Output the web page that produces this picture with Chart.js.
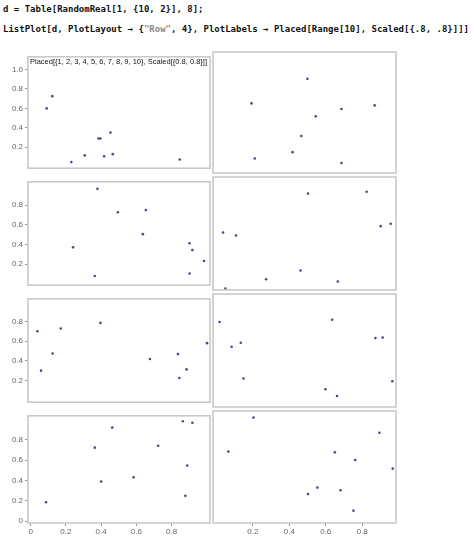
<!DOCTYPE html>
<html>
<head>
<meta charset="utf-8">
<script src="https://cdn.jsdelivr.net/npm/chart.js@4.4.0/dist/chart.umd.min.js"></script>
<style>
  body { margin: 0; background: #fff; width: 474px; height: 539px; position: relative; overflow: hidden; }
  .code { position: absolute; left: 3px; font: bold 9px "DejaVu Sans Mono", monospace; line-height: 12px; color: #111; white-space: pre; }
  .code .str { color: #8a8a8a; }
  canvas { position: absolute; }
</style>
</head>
<body>
<div class="code" style="top:3px">d = Table[RandomReal[1, {10, 2}], 8];</div>
<div class="code" style="top:23px">ListPlot[d, PlotLayout → {<span class="str">"Row"</span>, 4}, PlotLabels → Placed[Range[10], Scaled[{.8, .8}]]]</div>
<script>
// values, one pair of arrays per panel (row by row, left then right)
const p1x = [0.091, 0.123, 0.231, 0.307, 0.385, 0.396, 0.417, 0.453, 0.466, 0.846];
const p1y = [0.600, 0.726, 0.046, 0.115, 0.290, 0.290, 0.106, 0.350, 0.128, 0.072];
const p2x = [0.499, 0.193, 0.686, 0.868, 0.545, 0.466, 0.418, 0.211, 0.686];
const p2y = [0.877, 0.644, 0.591, 0.625, 0.521, 0.335, 0.181, 0.121, 0.077];
const p3x = [0.379, 0.495, 0.654, 0.637, 0.241, 0.364, 0.902, 0.918, 0.984, 0.902];
const p3y = [0.966, 0.728, 0.750, 0.506, 0.372, 0.081, 0.413, 0.344, 0.234, 0.106];
const p4x = [0.503, 0.824, 0.037, 0.108, 0.901, 0.956, 0.050, 0.273, 0.462, 0.666];
const p4y = [0.884, 0.900, 0.522, 0.494, 0.581, 0.603, 0.000, 0.088, 0.169, 0.066];
const p5x = [0.038, 0.059, 0.125, 0.171, 0.396, 0.677, 0.836, 0.885, 0.844, 1.001];
const p5y = [0.703, 0.300, 0.475, 0.731, 0.788, 0.419, 0.469, 0.313, 0.225, 0.581];
const p6x = [0.018, 0.084, 0.134, 0.149, 0.635, 0.598, 0.662, 0.872, 0.912, 0.965];
const p6y = [0.772, 0.541, 0.578, 0.244, 0.794, 0.144, 0.081, 0.622, 0.628, 0.219];
const p7x = [0.087, 0.364, 0.400, 0.463, 0.584, 0.724, 0.864, 0.918, 0.889, 0.878];
const p7y = [0.185, 0.722, 0.389, 0.919, 0.430, 0.740, 0.982, 0.966, 0.546, 0.248];
const p8x = [0.204, 0.066, 0.650, 0.761, 0.894, 0.967, 0.554, 0.503, 0.681, 0.752];
const p8y = [0.973, 0.653, 0.646, 0.574, 0.831, 0.493, 0.314, 0.254, 0.289, 0.097];

const panelsX = [p1x, p2x, p3x, p4x, p5x, p6x, p7x, p8x];
const panelsY = [p1y, p2y, p3y, p4y, p5y, p6y, p7y, p8y];

// tick labels
const yTicksRow1 = [0.2, 0.4, 0.6, 0.8, 1.0];
const yTicksMid = [0.2, 0.4, 0.6, 0.8];
const yTicksLast = [0, 0.2, 0.4, 0.6, 0.8];
const xTicksLeft = [0, 0.2, 0.4, 0.6, 0.8];
const xTicksRight = [0.2, 0.4, 0.6, 0.8];

// axis ranges
const xRangeLeft = [-0.015, 1.018];
const xRangeRight = [-0.018, 0.985];
const yRanges = [[-0.017, 1.132], [-0.0125, 1.0375], [-0.022, 1.034], [-0.019, 1.035]];

const plotLabel = 'Placed[{1, 2, 3, 4, 5, 6, 7, 8, 9, 10}, Scaled[{0.8, 0.8}]]';

// frame positions in the page
const cols = [{ l: 28, r: 210 }, { l: 213, r: 396 }];
const rows = [{ t: 52, b: 173 }, { t: 177, b: 290 }, { t: 294, b: 407 }, { t: 411, b: 523 }];

const tickFont = { family: '"Liberation Sans", Arial, sans-serif', size: 8 };
const tickColor = '#666';

const framePlugin = {
  id: 'frame',
  afterDraw(chart) {
    const a = chart.chartArea;
    const ctx = chart.ctx;
    ctx.save();
    ctx.strokeStyle = '#c9c9c9';
    ctx.lineWidth = 1.6;
    ctx.strokeRect(a.left, a.top, a.right - a.left, a.bottom - a.top);
    if (chart.options.plugins.frame && chart.options.plugins.frame.label) {
      ctx.fillStyle = '#111';
      ctx.font = '8px "Liberation Sans", Arial, sans-serif';
      ctx.textBaseline = 'middle';
      ctx.fillText(chart.options.plugins.frame.label, a.left + 2, a.top + 5, a.right - a.left - 5);
    }
    ctx.restore();
  }
};

function fmt(v) {
  return v === 0 ? '0' : v.toFixed(1);
}

function makePanel(i) {
  const ci = i % 2;
  const ri = Math.floor(i / 2);
  const c = cols[ci];
  const r = rows[ri];
  const pad = 2;
  const showY = ci === 0;
  const showX = ri === 3;
  const leftExtra = showY ? 28 : pad;
  const bottomExtra = showX ? 18 : pad;
  const w = leftExtra + (c.r - c.l) + pad;
  const h = pad + (r.b - r.t) + bottomExtra;

  const canvas = document.createElement('canvas');
  canvas.width = w;
  canvas.height = h;
  canvas.style.left = (c.l - leftExtra) + 'px';
  canvas.style.top = (r.t - pad) + 'px';
  canvas.style.width = w + 'px';
  canvas.style.height = h + 'px';
  document.body.appendChild(canvas);

  const xs = panelsX[i];
  const ys = panelsY[i];
  const yTicks = ri === 0 ? yTicksRow1 : (ri === 3 ? yTicksLast : yTicksMid);
  const xTicks = ci === 0 ? xTicksLeft : xTicksRight;
  const xRange = ci === 0 ? xRangeLeft : xRangeRight;

  new Chart(canvas.getContext('2d'), {
    type: 'scatter',
    data: {
      datasets: [{
        data: xs.map((x, k) => ({ x: x, y: ys[k] })),
        backgroundColor: '#454d80',
        borderWidth: 0,
        pointRadius: 1.3,
        clip: false
      }]
    },
    options: {
      responsive: false,
      animation: false,
      devicePixelRatio: 1,
      layout: {
        autoPadding: false,
        padding: { left: showY ? 0 : pad, right: pad, top: pad, bottom: showX ? 0 : pad }
      },
      plugins: {
        legend: { display: false },
        tooltip: { enabled: false },
        frame: { label: i === 0 ? plotLabel : null }
      },
      scales: {
        x: {
          type: 'linear',
          display: showX,
          min: xRange[0],
          max: xRange[1],
          afterBuildTicks: s => { s.ticks = xTicks.map(v => ({ value: v })); },
          afterFit: s => { s.height = showX ? 18 : 0; },
          border: { display: false },
          grid: { drawOnChartArea: false, drawTicks: true, tickLength: 3, color: '#999' },
          ticks: { font: tickFont, color: tickColor, padding: 1, maxRotation: 0, callback: v => fmt(v) }
        },
        y: {
          type: 'linear',
          display: showY,
          min: yRanges[ri][0],
          max: yRanges[ri][1],
          afterBuildTicks: s => { s.ticks = yTicks.map(v => ({ value: v })); },
          afterFit: s => { s.width = showY ? 28 : 0; },
          border: { display: false },
          grid: { drawOnChartArea: false, drawTicks: true, tickLength: 3, color: '#999' },
          ticks: { font: tickFont, color: tickColor, padding: 2, callback: v => fmt(v) }
        }
      }
    },
    plugins: [framePlugin]
  });
}

for (let i = 0; i < 8; i++) makePanel(i);
</script>
</body>
</html>
